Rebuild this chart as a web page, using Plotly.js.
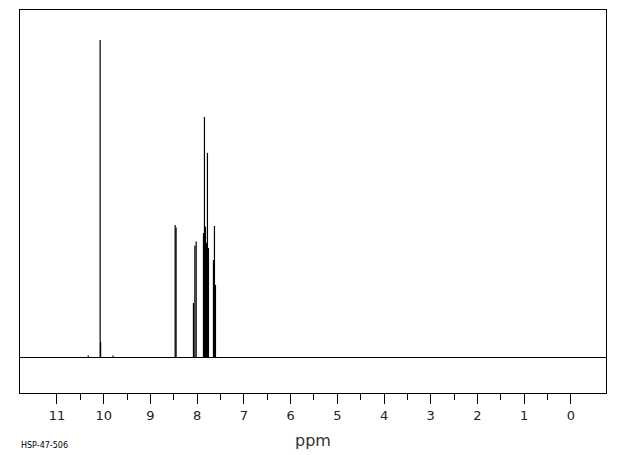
<!DOCTYPE html>
<html>
<head>
<meta charset="utf-8">
<script src="https://cdn.plot.ly/plotly-3.0.1.min.js"></script>
<style>html,body{margin:0;padding:0;background:#fff;}#chart{width:620px;height:455px;}</style>
</head>
<body>
<div id="chart"></div>
<script>
// Peak positions (ppm) and relative intensities
var peakPpm = [10.33, 10.075, 10.065, 9.80,
               8.47, 8.45,
               8.078, 8.048, 8.020,
               7.864, 7.843, 7.821, 7.800, 7.779, 7.757,
               7.650, 7.629, 7.607];
var peakHeight = [0.8, 100, 5, 0.8,
                  41.8, 41.0,
                  17.3, 35.3, 36.6,
                  39.3, 75.8, 41.3, 36.2, 64.5, 34.6,
                  30.8, 41.5, 23.0];
var majorTicks = [11, 10, 9, 8, 7, 6, 5, 4, 3, 2, 1, 0];
var minorTicks = [10.5, 9.5, 8.5, 7.5, 6.5, 5.5, 4.5, 3.5, 2.5, 1.5, 0.5];
var sampleId = 'HSP-47-506';

var xs = [], ys = [];
for (var i = 0; i < peakPpm.length; i++) {
  xs.push(peakPpm[i], peakPpm[i], null);
  ys.push(0, peakHeight[i], null);
}

var trace = {
  x: xs, y: ys, type: 'scatter', mode: 'lines',
  line: {color: '#000', width: 1.2}, hoverinfo: 'skip', showlegend: false
};

var layout = {
  width: 620, height: 455,
  margin: {l: 20, r: 14, t: 10, b: 62},
  paper_bgcolor: '#fff', plot_bgcolor: '#fff',
  showlegend: false,
  xaxis: {
    range: [11.79, -0.75],
    showgrid: false, zeroline: false,
    showline: true, mirror: true, linecolor: '#000', linewidth: 1,
    tickmode: 'array', tickvals: majorTicks, ticktext: majorTicks.map(String),
    ticks: 'outside', ticklen: 10, tickcolor: '#000', tickwidth: 1,
    minor: {tickmode: 'array', tickvals: minorTicks, ticks: 'outside', ticklen: 6, tickcolor: '#000', tickwidth: 1, showgrid: false},
    tickfont: {family: 'DejaVu Sans', size: 13, color: '#222'},
    title: {text: 'ppm', font: {family: 'DejaVu Sans', size: 16, color: '#333'}, standoff: 13}
  },
  yaxis: {
    range: [-11.01, 109.43],
    showgrid: false, showticklabels: false, ticks: '',
    zeroline: true, zerolinecolor: '#000', zerolinewidth: 1,
    showline: true, mirror: true, linecolor: '#000', linewidth: 1
  },
  annotations: [{
    text: sampleId, xref: 'paper', yref: 'paper', x: -0.002, y: -0.136,
    xanchor: 'left', yanchor: 'middle', showarrow: false,
    font: {family: 'DejaVu Sans', size: 8, color: '#000'}
  }]
};

Plotly.newPlot('chart', [trace], layout, {staticPlot: true, displayModeBar: false});
</script>
</body>
</html>
